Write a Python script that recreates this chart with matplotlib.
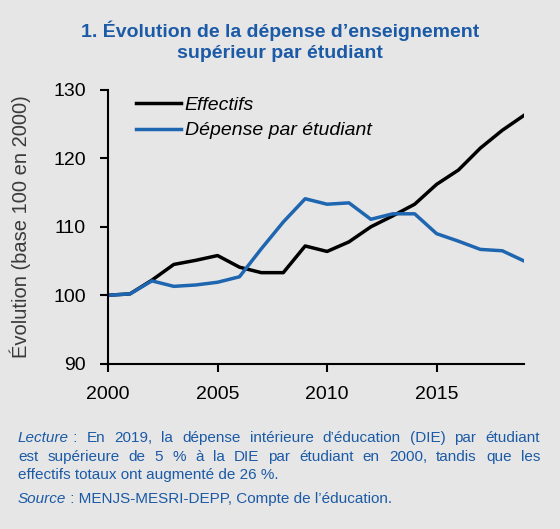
import matplotlib
matplotlib.use("Agg")
import matplotlib.pyplot as plt

years = list(range(2000, 2020))
effectifs = [100.0, 100.2, 102.2, 104.5, 105.1, 105.8, 104.1, 103.3, 103.3, 107.2,
             106.4, 107.8, 110.0, 111.6, 113.3, 116.2, 118.3, 121.5, 124.1, 126.3]
depense = [100.0, 100.2, 102.1, 101.3, 101.5, 101.9, 102.7, 106.8, 110.7, 114.1,
           113.3, 113.5, 111.1, 111.9, 111.9, 109.0, 107.9, 106.7, 106.5, 105.0]
series_labels = ["Effectifs", "Dépense par étudiant"]
x_ticks = [2000, 2005, 2010, 2015]
y_ticks = [90, 100, 110, 120, 130]

title = "1. Évolution de la dépense d\u2019enseignement\nsupérieur par étudiant"
y_label = "Évolution (base 100 en 2000)"
note_lines = [
    ("Lecture", " : En 2019, la dépense intérieure d\u2019éducation (DIE) par étudiant", True),
    ("", "est supérieure de 5 % à la DIE par étudiant en 2000, tandis que les", True),
    ("", "effectifs totaux ont augmenté de 26 %.", False),
]
source_line = ("Source", " : MENJS-MESRI-DEPP, Compte de l\u2019éducation.")

BG = "#e6e6e6"
BLUE = "#1f66b0"
TEXT_BLUE = "#1b5aa6"

plt.rcParams["font.family"] = ["Liberation Sans", "DejaVu Sans"]

fig = plt.figure(figsize=(5.6, 5.29), dpi=100, facecolor=BG)
ax = fig.add_axes([0.193, 0.3125, 0.743, 0.5175], facecolor=BG)

ax.plot(years, effectifs, color="black", lw=2.5, label=series_labels[0], solid_joinstyle="round")
ax.plot(years, depense, color=BLUE, lw=2.5, label=series_labels[1], solid_joinstyle="round")

ax.set_xlim(2000, 2019)
ax.set_ylim(90, 130)
ax.set_xticks(x_ticks)
ax.set_yticks(y_ticks)
ax.tick_params(direction="out", length=6, width=1.5, labelsize=14, pad=10)
for s in ["top", "right"]:
    ax.spines[s].set_visible(False)
for s in ["left", "bottom"]:
    ax.spines[s].set_linewidth(1.5)
ax.set_ylabel(y_label, fontsize=14.5, color="#3a3a3a")
ax.yaxis.set_label_coords(-0.185, 0.5)

leg = ax.legend(loc="upper left", bbox_to_anchor=(0.025, 1.04), frameon=False,
                handlelength=2.3, handletextpad=0.2, labelspacing=0.4,
                prop={"size": 14, "style": "italic"})

fig.text(0.5, 0.922, title, ha="center", va="center", fontsize=14, fontweight="bold",
         color=TEXT_BLUE, linespacing=1.25)

# bottom note, justified lines
fig.canvas.draw()
renderer = fig.canvas.get_renderer()
x0, x1 = 18 / 560, 540 / 560
fs = 11


def width_of(t):
    bb = t.get_window_extent(renderer)
    return bb.width / fig.bbox.width


def draw_line(y, italic, rest, justify):
    x = x0
    if italic:
        t = fig.text(x, y, italic, fontsize=fs, style="italic", color=TEXT_BLUE, va="baseline")
        x += width_of(t)
    if not justify:
        fig.text(x, y, rest, fontsize=fs, color=TEXT_BLUE, va="baseline")
        return
    words = rest.strip().split(" ")
    lead = " " if rest.startswith(" ") else ""
    items = []
    total = 0
    for i, w in enumerate(words):
        t = fig.text(0, y, (lead + w) if i == 0 else w, fontsize=fs, color=TEXT_BLUE, va="baseline")
        items.append(t)
        total += width_of(t)
    gap = (x1 - x - total) / (len(words) - 1)
    for t in items:
        t.set_x(x)
        x += width_of(t) + gap


ys = [1 - 442 / 529, 1 - 461 / 529, 1 - 479 / 529]
for (it, rest, just), y in zip(note_lines, ys):
    draw_line(y, it, rest, just)
draw_line(1 - 503 / 529, source_line[0], source_line[1], False)

fig.savefig("out.png", dpi=100, facecolor=BG)
